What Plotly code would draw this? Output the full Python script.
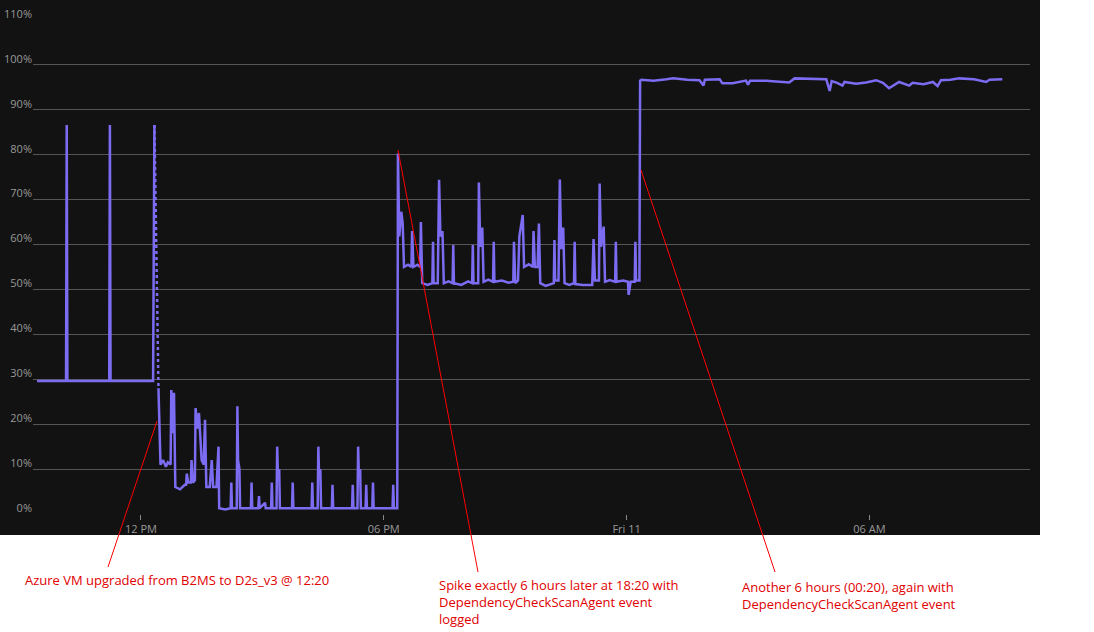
import plotly.graph_objects as go

D1 = "2019-10-10 "
D2 = "2019-10-11 "

# Segment before VM upgrade (times on day 1, CPU %)
pre_t = ["09:26", "10:09", "10:10", "10:11", "11:13", "11:14", "11:15", "12:18", "12:20"]
pre_v = [29.6, 29.6, 86.6, 29.6, 29.6, 86.6, 29.6, 29.6, 86.6]

# Dotted transition during upgrade
up_t = ["12:20", "12:26"]
up_v = [86.6, 28.0]

# Low-load period after upgrade (day 1)
low_t = ["12:26", "12:29", "12:33", "12:37", "12:40", "12:44", "12:45", "12:48", "12:49", "12:51",
         "12:58", "13:05", "13:07", "13:08", "13:10", "13:14", "13:15", "13:17", "13:20", "13:21",
         "13:24", "13:26", "13:30", "13:33", "13:35", "13:37", "13:42", "13:45", "13:47", "13:52",
         "13:55", "13:56", "14:05",
         "14:13", "14:14", "14:15", "14:22", "14:23", "14:24", "14:26", "14:27",
         "14:43", "14:44", "14:45", "14:54", "14:55", "14:56", "15:04", "15:05",
         "15:13", "15:14", "15:15", "15:21", "15:22", "15:23", "15:25", "15:26",
         "15:44", "15:45", "15:46", "16:13", "16:14", "16:15", "16:22", "16:23", "16:24", "16:26", "16:27",
         "16:43", "16:44", "16:45", "17:13", "17:14", "17:15", "17:21", "17:22", "17:23", "17:25", "17:26",
         "17:33", "17:34", "17:35", "17:43", "17:44", "17:45", "18:13", "18:14", "18:15", "18:20"]
low_v = [28.0, 11.0, 12.0, 10.5, 11.5, 11.0, 27.6, 18.0, 27.0, 6.0,
         5.5, 6.5, 6.5, 9.0, 7.0, 7.0, 12.0, 7.0, 7.5, 23.6,
         19.0, 22.5, 12.0, 11.0, 21.0, 6.0, 6.0, 12.0, 6.0, 6.0,
         15.0, 1.3, 1.0,
         1.3, 7.0, 1.3, 1.3, 24.0, 12.0, 10.0, 1.3,
         1.3, 7.0, 1.3, 1.3, 4.0, 1.3, 2.5, 1.3,
         1.3, 7.0, 1.3, 1.3, 15.0, 9.0, 10.0, 1.3,
         1.3, 7.0, 1.3, 1.3, 7.0, 1.3, 1.3, 15.0, 9.0, 10.0, 1.3,
         1.3, 6.5, 1.3, 1.3, 6.5, 1.3, 1.3, 15.0, 9.0, 10.0, 1.3,
         1.3, 6.5, 1.3, 1.3, 7.0, 1.3, 1.3, 6.5, 1.3, 1.3]

# Mid-load period (day 1 evening)
mid_t = ["18:21", "18:23", "18:26", "18:28", "18:30", "18:36", "18:41", "18:42", "18:44", "18:50",
         "18:54", "18:55", "18:57", "19:05", "19:12", "19:13", "19:14", "19:20", "19:22", "19:24",
         "19:27", "19:29", "19:36", "19:42", "19:43", "19:44", "19:55", "20:05", "20:11", "20:12",
         "20:13", "20:20", "20:21", "20:23", "20:26", "20:28", "20:35", "20:42", "20:43", "20:44",
         "20:55", "21:05", "21:12", "21:13", "21:15", "21:19", "21:21", "21:26", "21:28", "21:35",
         "21:41", "21:42", "21:44", "21:48", "21:50", "21:52", "22:00", "22:12", "22:13", "22:14",
         "22:19", "22:21", "22:23", "22:26", "22:28", "22:35", "22:42", "22:43", "22:44", "22:55",
         "23:09", "23:11", "23:13", "23:19", "23:20", "23:22", "23:26", "23:28", "23:35", "23:43",
         "23:44", "23:45", "23:55"]
mid_v = [80.3, 61.8, 67.3, 64.8, 55.0, 55.5, 55.0, 63.0, 55.0, 55.5,
         55.0, 65.0, 51.4, 51.0, 51.4, 60.6, 51.4, 51.4, 74.4, 61.8,
         63.0, 51.4, 51.8, 51.4, 59.9, 51.4, 51.0, 51.8, 51.4, 59.9,
         51.4, 51.4, 73.8, 59.5, 63.8, 51.7, 52.2, 51.7, 60.6, 51.7,
         52.0, 51.5, 51.7, 60.6, 51.4, 52.0, 61.8, 66.6, 55.0, 55.6,
         55.0, 63.0, 55.0, 55.0, 64.7, 51.4, 50.8, 51.4, 61.0, 52.0,
         52.0, 74.5, 59.0, 63.8, 51.4, 51.0, 51.4, 60.6, 51.2, 51.0,
         51.0, 61.2, 52.0, 52.0, 73.6, 59.5, 64.0, 51.7, 52.1, 51.7,
         60.6, 51.7, 52.0]

# Day 2
late_t = ["00:02", "00:03", "00:06", "00:12", "00:13", "00:14", "00:19", "00:20", "00:22", "00:40",
          "00:59", "01:09", "01:30", "01:48", "01:54", "01:56", "02:18", "02:22", "02:37", "02:57",
          "03:00", "03:03", "03:27", "03:45", "04:01", "04:09", "04:30", "04:56", "05:01", "05:04",
          "05:12", "05:20", "05:23", "05:40", "05:55", "06:10", "06:20", "06:29", "06:44", "06:59",
          "07:04", "07:20", "07:34", "07:41", "07:46", "08:00", "08:13", "08:35", "08:53", "08:58",
          "09:17"]
late_v = [51.7, 48.8, 51.7, 51.7, 60.6, 52.0, 52.0, 96.5, 96.7, 96.5,
          96.8, 97.0, 96.7, 96.6, 95.4, 96.7, 96.8, 95.9, 95.9, 96.5,
          95.6, 96.5, 96.5, 96.3, 96.1, 97.0, 96.9, 96.8, 94.2, 96.4,
          96.0, 95.4, 96.2, 95.8, 96.1, 96.6, 96.0, 94.8, 96.2, 95.4,
          96.0, 95.7, 96.2, 95.3, 96.6, 96.7, 97.0, 96.8, 96.2, 96.7,
          96.8]

x_tickvals = [D1 + "12:00", D1 + "18:00", D2 + "00:00", D2 + "06:00"]
x_ticktext = ["12 PM", "06 PM", "Fri 11", "06 AM"]
y_tickvals = [0, 10, 20, 30, 40, 50, 60, 70, 80, 90, 100, 110]
y_ticktext = [f"{v}%" for v in y_tickvals]

main_x = [D1 + t for t in pre_t] + [None] + [D1 + t for t in low_t + mid_t] + [D2 + t for t in late_t]
main_y = pre_v + [None] + low_v + mid_v + late_v

LINE = "#7b6cf2"
fig = go.Figure()
fig.add_trace(go.Scatter(x=main_x, y=main_y, mode="lines", line=dict(color=LINE, width=2.5),
                         connectgaps=False, hoverinfo="skip"))
fig.add_trace(go.Scatter(x=[D1 + t for t in up_t], y=up_v, mode="lines",
                         line=dict(color=LINE, width=2.5, dash="dot"), hoverinfo="skip"))

W, H = 1094, 632
L, R, T, B = 33, 1030, 20, 514
pw, ph = R - L, B - T
def px(X): return (X - L) / pw
def py(Y): return (B - Y) / ph

shapes = [dict(type="rect", xref="paper", yref="paper", x0=px(0), x1=px(1040), y0=py(535), y1=py(0),
               fillcolor="#121212", line=dict(width=0), layer="below")]
for (a, b, c, d) in [(108, 567, 157, 421), (478, 572, 398, 150), (775, 572, 641, 170)]:
    shapes.append(dict(type="line", xref="paper", yref="paper", x0=px(a), y0=py(b), x1=px(c), y1=py(d),
                       line=dict(color="red", width=1)))

notes = [
    (23, 569, "Azure VM upgraded from B2MS to D2s_v3 @ 12:20"),
    (437, 574, "Spike exactly 6 hours later at 18:20 with<br>DependencyCheckScanAgent event<br>logged"),
    (740, 576, "Another 6 hours (00:20), again with<br>DependencyCheckScanAgent event"),
]
annotations = [dict(xref="paper", yref="paper", x=px(a), y=py(b), text=t, showarrow=False,
                    xanchor="left", yanchor="top", align="left",
                    font=dict(color="#e00000", size=13, family="Open Sans")) for a, b, t in notes]

fig.update_layout(
    width=W, height=H, margin=dict(l=L, r=W - R, t=T, b=H - B, autoexpand=False),
    paper_bgcolor="white", plot_bgcolor="#121212", showlegend=False,
    shapes=shapes, annotations=annotations,
    xaxis=dict(range=[D1 + "09:20", D2 + "09:58"], tickvals=x_tickvals, ticktext=x_ticktext,
               showgrid=False, zeroline=False, ticks="outside", ticklen=5, tickcolor="#888",
               automargin=False, tickfont=dict(color="#999", size=11, family="Open Sans")),
    yaxis=dict(range=[0, 110], tickvals=y_tickvals, ticktext=y_ticktext, showgrid=True,
               gridcolor="#555", gridwidth=1, zeroline=False, ticklabelshift=-6, ticklabelstandoff=0,
               automargin=False, tickfont=dict(color="#999", size=11, family="Open Sans")),
)
fig.write_html("out.html", config={"displayModeBar": False},
               post_script="document.body.style.margin='0';")
